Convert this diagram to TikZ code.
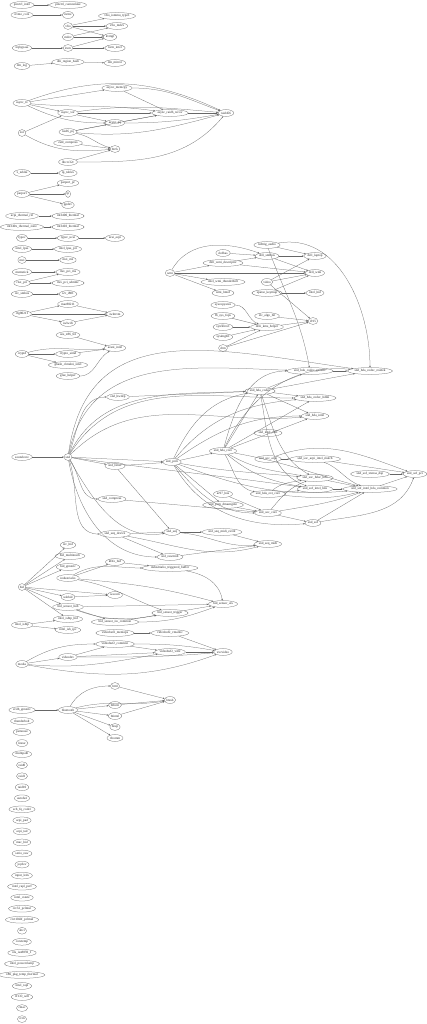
\documentclass[tikz,border=0pt]{standalone}
\usepackage{fontspec}
\setmainfont{Liberation Serif}
\usetikzlibrary{shapes.geometric,arrows.meta}

\begin{document}
\begin{tikzpicture}[
        x=1pt, y=-1pt,
        mod/.style={draw=black!60, ellipse, line width=0.25pt, inner sep=0.5pt, minimum height=6.8pt, text=black!85, font=\fontsize{3.3}{3.6}\selectfont},
        dep/.style={draw=black!60, line width=0.25pt, -{Stealth[length=1.8pt,width=1.5pt]}}
    ]
    \path[fill=white, use as bounding box] (0,0) rectangle (426,1024);

    % small groups at the top
    \node[mod] (pinctrlintel) at (22,5) {pinctrl\_intel};
    \node[mod] (pinctrlcnl) at (68,5) {pinctrl\_cannonlake};
    \node[mod] (nvmecore) at (22,15) {nvme\_core};
    \node[mod] (nvme) at (68,15) {nvme};
    \node[mod] (vfio) at (68,26) {vfio};
    \node[mod] (vfioiommu) at (117,16) {vfio\_iommu\_type1};
    \node[mod] (vfiomdev) at (117,26) {vfio\_mdev};
    \node[mod] (mdev) at (68,37) {mdev};
    \node[mod] (kvmgt) at (110,37) {kvmgt};
    \node[mod] (irqbypass) at (22,48) {irqbypass};
    \node[mod] (kvm) at (68,48) {kvm};
    \node[mod] (kvmintel) at (115,48) {kvm\_intel};
    \node[mod] (dmlog) at (22,66) {dm\_log};
    \node[mod] (dmregion) at (68,62) {dm\_region\_hash};
    \node[mod] (dmmirror) at (115,63) {dm\_mirror};

    % raid
    \node[mod] (asynctx) at (22,103) {async\_tx};
    \node[mod] (asyncmemcpy) at (117,88) {async\_memcpy};
    \node[mod] (asyncxor) at (68,113) {async\_xor};
    \node[mod] (asyncraid) at (170,113) {async\_raid6\_recov};
    \node[mod] (raid) at (226,113) {raid456};
    \node[mod] (asyncpq) at (115,123) {async\_pq};
    \node[mod] (xor) at (22,133) {xor};
    \node[mod] (raidpq) at (68,132) {raid6\_pq};
    \node[mod] (zstd) at (68,143) {zstd\_compress};
    \node[mod] (btrfs) at (115,149) {btrfs};
    \node[mod] (libcrc) at (68,162) {libcrc32c};

    \node[mod] (xtables) at (22,173) {x\_tables};
    \node[mod] (iptables) at (68,173) {ip\_tables};
    \node[mod] (parport) at (22,194) {parport};
    \node[mod] (parportpc) at (68,183) {parport\_pc};
    \node[mod] (lp) at (68,194) {lp};
    \node[mod] (ppdev) at (68,205) {ppdev};
    \node[mod] (acpithermal) at (22,216) {acpi\_thermal\_rel};
    \node[mod] (int3400) at (68,216) {int3400\_thermal};
    \node[mod] (int340x) at (22,227) {int340x\_thermal\_zone};
    \node[mod] (int3403) at (68,227) {int3403\_thermal};
    \node[mod] (typec) at (22,238) {typec};
    \node[mod] (typecucsi) at (68,238) {typec\_ucsi};
    \node[mod] (ucsiacpi) at (115,238) {ucsi\_acpi};
    \node[mod] (intellpss) at (22,249) {intel\_lpss};
    \node[mod] (intellpsspci) at (68,249) {intel\_lpss\_pci};
    \node[mod] (mei) at (22,260) {mei};
    \node[mod] (meime) at (68,260) {mei\_me};
    \node[mod] (memstick) at (22,272) {memstick};
    \node[mod] (rtsxms) at (68,272) {rtsx\_pci\_ms};
    \node[mod] (rtsxpci) at (22,283) {rtsx\_pci};
    \node[mod] (rtsxsdmmc) at (68,283) {rtsx\_pci\_sdmmc};
    \node[mod] (i2csmbus) at (22,294) {i2c\_smbus};
    \node[mod] (i2ci801) at (68,294) {i2c\_i801};
    \node[mod] (cfg) at (22,314) {cfg80211};
    \node[mod] (mac) at (68,304) {mac80211};
    \node[mod] (iwlwifi) at (68,323) {iwlwifi};
    \node[mod] (iwlmvm) at (115,314) {iwlmvm};
    \node[mod] (aesx) at (68,335) {aes\_x86\_64};
    \node[mod] (aesni) at (115,348) {aesni\_intel};
    \node[mod] (cryptd) at (22,354) {cryptd};
    \node[mod] (cryptosimd) at (68,354) {crypto\_simd};
    \node[mod] (ghash) at (68,365) {ghash\_clmulni\_intel};
    \node[mod] (glue) at (68,376) {glue\_helper};

    % wmi and dell
    \node[mod] (wmi) at (170,273) {wmi};
    \node[mod] (dcdbas) at (223,253) {dcdbas};
    \node[mod] (dellwmidesc) at (223,263) {dell\_wmi\_descriptor};
    \node[mod] (intelwmitb) at (223,282) {intel\_wmi\_thunderbolt};
    \node[mod] (wmibmof) at (223,293) {wmi\_bmof};
    \node[mod] (ledtrig) at (267,245) {ledtrig\_audio};
    \node[mod] (dellsmbios) at (267,256) {dell\_smbios};
    \node[mod] (video) at (267,282) {video};
    \node[mod] (sparsekeymap) at (267,293) {sparse\_keymap};
    \node[mod] (delllaptop) at (315,256) {dell\_laptop};
    \node[mod] (dellwmi) at (315,273) {dell\_wmi};
    \node[mod] (intelhid) at (315,293) {intel\_hid};

    % drm
    \node[mod] (syscopyarea) at (223,305) {syscopyarea};
    \node[mod] (fbsysfops) at (223,316) {fb\_sys\_fops};
    \node[mod] (sysfillrect) at (223,327) {sysfillrect};
    \node[mod] (sysimgblt) at (223,337) {sysimgblt};
    \node[mod] (drm) at (223,348) {drm};
    \node[mod] (i2calgobit) at (267,316) {i2c\_algo\_bit};
    \node[mod] (drmkms) at (267,327) {drm\_kms\_helper};
    \node[mod] (i915) at (313,321) {i915};

    % sound
    \node[mod] (soundcore) at (22,457) {soundcore};
    \node[mod] (snd) at (68,457) {snd};
    \node[mod] (sndhwdep) at (118,397) {snd\_hwdep};
    \node[mod] (sndtimer) at (115,466) {snd\_timer};
    \node[mod] (sndpcm) at (172,462) {snd\_pcm};
    \node[mod] (sndcompress) at (112,499) {snd\_compress};
    \node[mod] (sndseqdevice) at (115,534) {snd\_seq\_device};
    \node[mod] (sndseq) at (172,532) {snd\_seq};
    \node[mod] (sndrawmidi) at (170,557) {snd\_rawmidi};
    \node[mod] (sndseqmidievent) at (222,532) {snd\_seq\_midi\_event};
    \node[mod] (sndseqmidi) at (268,544) {snd\_seq\_midi};
    \node[mod] (codecgeneric) at (310,371) {snd\_hda\_codec\_generic};
    \node[mod] (codecrealtek) at (370,371) {snd\_hda\_codec\_realtek};
    \node[mod] (hdacodec) at (260,391) {snd\_hda\_codec};
    \node[mod] (codechdmi) at (315,398) {snd\_hda\_codec\_hdmi};
    \node[mod] (hdaintel) at (315,416) {snd\_hda\_intel};
    \node[mod] (intelnhlt) at (268,433) {snd\_intel\_nhlt};
    \node[mod] (hdacore) at (223,451) {snd\_hda\_core};
    \node[mod] (socacpi) at (268,459) {snd\_soc\_acpi};
    \node[mod] (socacpimatch) at (315,459) {snd\_soc\_acpi\_intel\_match};
    \node[mod] (sofxtensa) at (370,474) {snd\_sof\_xtensa\_dsp};
    \node[mod] (sofpci) at (415,474) {snd\_sof\_pci};
    \node[mod] (sochdac) at (315,478) {snd\_soc\_hdac\_hda};
    \node[mod] (sofintelhda) at (315,489) {snd\_sof\_intel\_hda};
    \node[mod] (sofcommon) at (370,489) {snd\_sof\_intel\_hda\_common};
    \node[mod] (hdaextcore) at (268,494) {snd\_hda\_ext\_core};
    \node[mod] (ac97) at (223,494) {ac97\_bus};
    \node[mod] (pcmdma) at (223,505) {snd\_pcm\_dmaengine};
    \node[mod] (soccore) at (268,513) {snd\_soc\_core};
    \node[mod] (sndsof) at (313,523) {snd\_sof};

    % hid
    \node[mod] (hid) at (22,587) {hid};
    \node[mod] (i2chid) at (68,545) {i2c\_hid};
    \node[mod] (hidmulti) at (70,556) {hid\_multitouch};
    \node[mod] (hidgeneric) at (68,567) {hid\_generic};
    \node[mod] (industrialio) at (68,578) {industrialio};
    \node[mod] (usbhid) at (68,597) {usbhid};
    \node[mod] (wacom) at (115,595) {wacom};
    \node[mod] (sensorhub) at (68,607) {hid\_sensor\_hub};
    \node[mod] (ishtphid) at (68,619) {intel\_ishtp\_hid};
    \node[mod] (ishtp) at (22,625) {intel\_ishtp};
    \node[mod] (ishipc) at (68,630) {intel\_ish\_ipc};
    \node[mod] (kfifo) at (115,562) {kfifo\_buf};
    \node[mod] (iiotrig) at (170,568) {industrialio\_triggered\_buffer};
    \node[mod] (sensortrigger) at (170,613) {hid\_sensor\_trigger};
    \node[mod] (sensorals) at (223,604) {hid\_sensor\_als};
    \node[mod] (sensoriio) at (115,622) {hid\_sensor\_iio\_common};

    % video
    \node[mod] (vbmemops) at (115,633) {videobuf2\_memops};
    \node[mod] (vbvmalloc) at (170,633) {videobuf2\_vmalloc};
    \node[mod] (uvcvideo) at (223,652) {uvcvideo};
    \node[mod] (videodev) at (68,657) {videodev};
    \node[mod] (vbcommon) at (115,644) {videobuf2\_common};
    \node[mod] (vbvl) at (170,652) {videobuf2\_v4l2};
    \node[mod] (media) at (22,664) {media};

    % bluetooth
    \node[mod] (ecdh) at (22,710) {ecdh\_generic};
    \node[mod] (bluetooth) at (68,710) {bluetooth};
    \node[mod] (btrtl) at (115,686) {btrtl};
    \node[mod] (btbcm) at (115,705) {btbcm};
    \node[mod] (btintel) at (115,716) {btintel};
    \node[mod] (bnep) at (115,727) {bnep};
    \node[mod] (rfcomm) at (115,738) {rfcomm};
    \node[mod] (btusb) at (170,700) {btusb};

    % modules on their own
    \foreach \lbl [count=\i from 0] in {thunderbolt, psmouse, linear, multipath, raid0, raid1, raid10,
        autofs4, sch\_fq\_codel, acpi\_pad, acpi\_tad, mac\_hid, serio\_raw, joydev, input\_leds,
        intel\_rapl\_perf, intel\_cstate, crc32\_pclmul, crct10dif\_pclmul, ahci, coretemp,
        nls\_iso8859\_1, intel\_powerclamp, x86\_pkg\_temp\_thermal, intel\_rapl, iTCO\_wdt, cmac, ccm}
        \node[mod] (solo\i) at (22,{721+11.04*\i}) {\lbl};

    % straight connectors
    \foreach \a/\b in {pinctrlintel/pinctrlcnl, nvmecore/nvme, vfio/vfioiommu, vfio/vfiomdev, vfio/kvmgt,
        mdev/vfiomdev, mdev/kvmgt, irqbypass/kvm, kvm/kvmintel, kvm/kvmgt, dmlog/dmregion, dmregion/dmmirror,
        asynctx/asyncmemcpy, asynctx/asyncxor, asyncmemcpy/asyncraid, asyncxor/asyncpq, asyncxor/asyncraid,
        asyncpq/asyncraid, asyncraid/raid, xor/asyncxor, raidpq/asyncpq, raidpq/asyncraid, zstd/btrfs, libcrc/btrfs,
        xtables/iptables, parport/parportpc, parport/lp, parport/ppdev, acpithermal/int3400, int340x/int3403,
        typec/typecucsi, typecucsi/ucsiacpi, intellpss/intellpsspci, mei/meime, memstick/rtsxms, rtsxpci/rtsxms,
        rtsxpci/rtsxsdmmc, i2csmbus/i2ci801, cfg/mac, cfg/iwlmvm, cfg/iwlwifi, mac/iwlmvm, iwlwifi/iwlmvm,
        aesx/aesni, cryptd/cryptosimd, cryptd/ghash, cryptosimd/aesni,
        wmi/dellwmidesc, wmi/dellwmi, wmi/intelwmitb, wmi/wmibmof, dcdbas/dellsmbios, dellwmidesc/dellsmbios,
        dellwmidesc/dellwmi, dellsmbios/delllaptop, dellsmbios/dellwmi, video/delllaptop, video/dellwmi,
        sparsekeymap/dellwmi, sparsekeymap/intelhid, ledtrig/delllaptop, video/i915,
        fbsysfops/drmkms, sysfillrect/drmkms, sysimgblt/drmkms, drm/drmkms, drm/i915, drmkms/i915, i2calgobit/i915,
        soundcore/snd, snd/sndtimer, snd/sndpcm, sndtimer/sndpcm, sndtimer/sndseq, sndhwdep/hdacodec,
        sndseqdevice/sndseq, sndseqdevice/sndrawmidi, sndseq/sndseqmidievent, sndseqmidievent/sndseqmidi,
        sndrawmidi/sndseqmidi, sndpcm/hdacore, sndpcm/pcmdma, hdacore/hdacodec, hdacore/codechdmi, hdacore/hdaintel,
        hdacodec/codecgeneric, hdacodec/codechdmi, hdacodec/hdaintel, codecgeneric/codecrealtek,
        socacpi/socacpimatch, socacpimatch/sofpci, sofxtensa/sofpci, sofcommon/sofpci, sochdac/sofcommon,
        sofintelhda/sofcommon, hdaextcore/sofintelhda, ac97/soccore, pcmdma/soccore, soccore/sndsof,
        sndsof/sofcommon, sndcompress/soccore,
        hid/i2chid, hid/hidmulti, hid/hidgeneric, hid/usbhid, hid/wacom, hid/sensorhub, hid/ishtphid,
        usbhid/wacom, industrialio/kfifo, kfifo/iiotrig, sensorhub/sensoriio, sensorhub/sensorals,
        sensoriio/sensortrigger, sensortrigger/sensorals, ishtp/ishtphid, ishtp/ishipc,
        vbmemops/vbvmalloc, vbvmalloc/uvcvideo, videodev/vbcommon, videodev/vbvl, vbcommon/vbvl, vbvl/uvcvideo,
        media/videodev, ecdh/bluetooth, bluetooth/btbcm, bluetooth/btintel, bluetooth/bnep, bluetooth/rfcomm,
        btrtl/btusb, btbcm/btusb, btintel/btusb}
        \draw[dep] (\a) -- (\b);

    % curved connectors
    \draw[dep] (asynctx) to[out=20,in=155] (raid);
    \draw[dep] (asynctx) to[out=-5,in=172] (asyncraid);
    \draw[dep] (asynctx) to[out=-25,in=180] (asyncpq);
    \draw[dep] (asyncmemcpy) to[out=0,in=160] (raid);
    \draw[dep] (asyncxor) to[out=8,in=175] (raid);
    \draw[dep] (asyncpq) to[out=0,in=190] (raid);
    \draw[dep] (raidpq) to[out=-5,in=195] (raid);
    \draw[dep] (raidpq) to[out=-10,in=165] (btrfs);
    \draw[dep] (xor) to[out=-30,in=185] (btrfs);
    \draw[dep] (libcrc) to[out=0,in=230] (raid);
    \draw[dep] (cryptd) to[out=15,in=185] (aesni);
    \draw[dep] (glue) to[out=0,in=210] (aesni);
    \draw[dep] (wmi) to[out=60,in=160] (dellsmbios);
    \draw[dep] (syscopyarea) to[out=0,in=160] (drmkms);
    \draw[dep] (ledtrig) to[out=-70,in=100] (codecgeneric);
    \draw[dep] (ledtrig) to[out=10,in=90] (codecrealtek);

    \draw[dep] (snd) to[out=82,in=172,looseness=1.2] (codecrealtek);
    \draw[dep] (snd) to[out=78,in=178,looseness=1.1] (codecgeneric);
    \draw[dep] (snd) to[out=70,in=180] (sndhwdep);
    \draw[dep] (snd) to[out=64,in=182] (hdacodec);
    \draw[dep] (snd) to[out=58,in=180] (codechdmi);
    \draw[dep] (snd) to[out=45,in=185] (hdaintel);
    \draw[dep] (snd) to[out=-8,in=172] (sofintelhda);
    \draw[dep] (snd) to[out=-55,in=180] (sndcompress);
    \draw[dep] (snd) to[out=-70,in=180] (sndseqdevice);
    \draw[dep] (snd) to[out=-60,in=190] (sndseq);
    \draw[dep] (snd) to[out=-80,in=180] (sndrawmidi);
    \draw[dep] (sndpcm) to[out=65,in=190] (hdacodec);
    \draw[dep] (sndpcm) to[out=50,in=185] (codechdmi);
    \draw[dep] (sndpcm) to[out=35,in=180] (hdaintel);
    \draw[dep] (sndpcm) to[out=-10,in=175] (sochdac);
    \draw[dep] (sndpcm) to[out=-20,in=185] (sofcommon);
    \draw[dep] (sndpcm) to[out=-50,in=180] (soccore);
    \draw[dep] (sndpcm) to[out=-60,in=185] (sndsof);
    \draw[dep] (sndseq) to[out=-5,in=185] (sndseqmidi);
    \draw[dep] (sndseqdevice) to[out=-10,in=195] (sndseqmidi);
    \draw[dep] (hdacore) to[out=75,in=180] (codecgeneric);
    \draw[dep] (hdacore) to[out=65,in=175] (codecrealtek);
    \draw[dep] (hdacore) to[out=-60,in=170] (hdaextcore);
    \draw[dep] (hdacore) to[out=-10,in=165] (sofcommon);
    \draw[dep] (hdacore) to[out=-30,in=170] (sochdac);
    \draw[dep] (hdacore) to[out=-40,in=170] (sofintelhda);
    \draw[dep] (hdacodec) to[out=-70,in=150] (sochdac);
    \draw[dep] (hdacodec) to[out=-80,in=160] (sofintelhda);
    \draw[dep] (hdacodec) to[out=10,in=190] (codecrealtek);
    \draw[dep] (socacpi) to[out=20,in=160] (sofpci);
    \draw[dep] (socacpimatch) to[out=-20,in=160] (sofcommon);
    \draw[dep] (hdaextcore) to[out=40,in=190] (sochdac);
    \draw[dep] (hdaextcore) to[out=-5,in=195] (sofcommon);
    \draw[dep] (soccore) to[out=50,in=200] (sochdac);
    \draw[dep] (soccore) to[out=10,in=200] (sofcommon);
    \draw[dep] (sndsof) to[out=10,in=250] (sofpci);

    \draw[dep] (industrialio) to[out=30,in=180] (iiotrig);
    \draw[dep] (industrialio) to[out=-5,in=165] (sensorals);
    \draw[dep] (industrialio) to[out=-10,in=160] (sensortrigger);
    \draw[dep] (iiotrig) to[out=-10,in=100] (sensorals);
    \draw[dep] (sensorhub) to[out=-20,in=190] (sensortrigger);
    \draw[dep] (sensoriio) to[out=0,in=200] (sensorals);
    \draw[dep] (media) to[out=30,in=180] (vbcommon);
    \draw[dep] (media) to[out=-5,in=190] (vbvl);
    \draw[dep] (media) to[out=-10,in=200] (uvcvideo);
    \draw[dep] (videodev) to[out=0,in=185] (uvcvideo);
    \draw[dep] (vbcommon) to[out=0,in=170] (uvcvideo);
    \draw[dep] (bluetooth) to[out=60,in=180] (btrtl);
    \draw[dep] (bluetooth) to[out=15,in=190] (btusb);
\end{tikzpicture}
\end{document}
